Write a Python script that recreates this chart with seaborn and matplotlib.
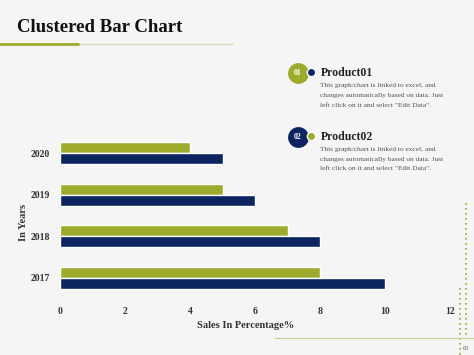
import pandas as pd
import seaborn as sns
import matplotlib.pyplot as plt
from matplotlib.lines import Line2D

# ---------- data ----------
years = ["2020", "2019", "2018", "2017"]
product01 = [4, 5, 7, 8]
product02 = [5, 6, 8, 10]
series_names = ["Product01", "Product02"]
x_ticks = [0, 2, 4, 6, 8, 10, 12]

GREEN = "#9eaa2c"
NAVY = "#0c2560"
BG = "#f5f5f5"
SERIF = ["Liberation Serif", "DejaVu Serif"]

df = pd.DataFrame({
    "year": years * 2,
    "value": product01 + product02,
    "product": [series_names[0]] * 4 + [series_names[1]] * 4,
})

sns.set_theme(style="white")
plt.rcParams["font.family"] = SERIF

W, H = 474, 355
fig = plt.figure(figsize=(W / 100, H / 100), dpi=100, facecolor=BG)


def fx(px):
    return px / W


def fy(py):
    return 1 - py / H


ax = fig.add_axes([fx(60), fy(300), fx(450) - fx(60), fy(100) - fy(300)])
ax.set_facecolor(BG)
sns.barplot(data=df, y="year", x="value", hue="product", order=years,
            hue_order=series_names, palette=[GREEN, NAVY], width=0.53,
            orient="h", ax=ax, legend=False, saturation=1)
ax.set_xlim(0, 12)
ax.set_ylim(3.54, -1.28)
ax.set_xticks(x_ticks)
ax.set_xticklabels([str(t) for t in x_ticks])
for s in ax.spines.values():
    s.set_visible(False)
ax.tick_params(axis="x", length=0, pad=5, labelsize=7, labelcolor="#333333")
ax.tick_params(axis="y", length=0, pad=7, labelsize=7, labelcolor="#333333")
for lab in ax.get_xticklabels() + ax.get_yticklabels():
    lab.set_fontweight("bold")
ax.set_xlabel("")
ax.set_ylabel("")

fig.text(fx(246), fy(326), "Sales In Percentage%", ha="center", va="center",
         fontsize=7.5, fontweight="bold", color="#333333")
fig.text(fx(23), fy(222), "In Years", ha="center", va="center", rotation=90,
         fontsize=7.5, fontweight="bold", color="#333333")

# ---------- title ----------
fig.text(fx(17), fy(28), "Clustered Bar Chart", ha="left", va="center",
         fontsize=13.5, fontweight="bold", color="#111111")
fig.add_artist(Line2D([fx(0), fx(233)], [fy(44), fy(44)], color="#d8dcb0", lw=0.8))
fig.add_artist(Line2D([fx(0), fx(78)], [fy(44), fy(44)], color=GREEN, lw=2))

# ---------- legend-like notes ----------
desc = ["This graph/chart is linked to excel, and",
        "changes automatically based on data. Just",
        "left click on it and select \"Edit Data\"."]
notes = [(73, "01", GREEN, NAVY, series_names[0]),
         (137, "02", NAVY, GREEN, series_names[1])]
for cy, num, c1, c2, name in notes:
    fig.add_artist(Line2D([fx(298)], [fy(cy)], marker="o", markersize=15,
                          markerfacecolor=c1, markeredgewidth=0))
    fig.text(fx(298), fy(cy), num, ha="center", va="center", fontsize=5.5,
             fontweight="bold", color="white")
    fig.add_artist(Line2D([fx(311)], [fy(cy - 1)], marker="o", markersize=6,
                          markerfacecolor=c2, markeredgecolor="white",
                          markeredgewidth=1))
    fig.text(fx(321), fy(cy), name, ha="left", va="center", fontsize=8.5,
             fontweight="bold", color="#222222")
    for i, line in enumerate(desc):
        fig.text(fx(320), fy(cy + 13 + i * 9.5), line, ha="left", va="center",
                 fontsize=5.3, color="#555555")

# ---------- decorations ----------
fig.add_artist(Line2D([fx(466), fx(466)], [fy(203), fy(336)], color=GREEN,
                      lw=1.2, ls=(0, (1, 2))))
fig.add_artist(Line2D([fx(460), fx(460)], [fy(288), fy(355)], color=GREEN,
                      lw=1.2, ls=(0, (1, 2))))
fig.add_artist(Line2D([fx(275), fx(474)], [fy(338), fy(338)], color="#c8cc90",
                      lw=0.8))
fig.text(fx(466), fy(348), "63", ha="center", va="center", fontsize=4.5,
         color="#555555")

fig.savefig("out.png", dpi=100, facecolor=BG)
plt.close()
